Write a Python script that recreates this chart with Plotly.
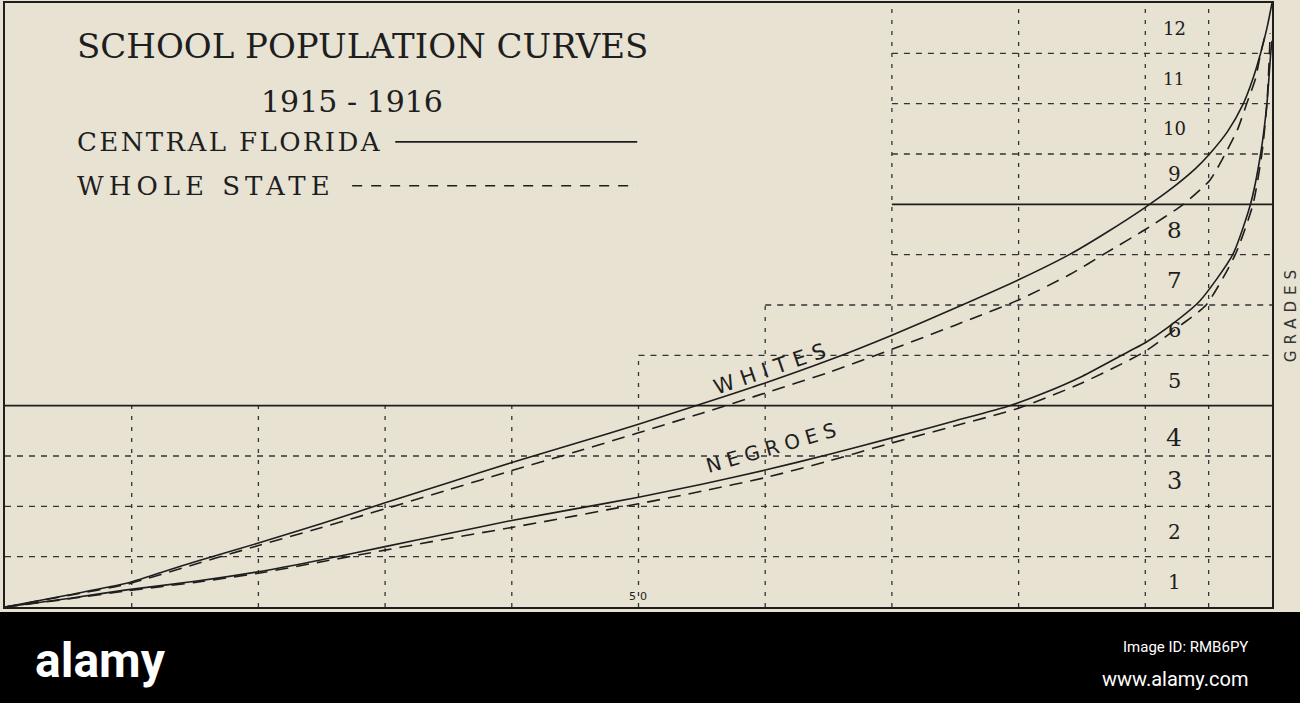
import plotly.graph_objects as go

# ---------------- data ----------------
# x: per cent of school population (0-100), y: grade reached
wc_x = [0, 5, 9.6, 12.5, 15.4, 20, 25, 30, 35, 40, 45, 50, 55, 60, 65, 70, 75, 80, 84, 87, 90, 92, 94, 95, 96.5, 97.7, 98.5, 99.1, 99.6, 100]
wc_y = [0, 0.24, 0.47, 0.7, 0.93, 1.27, 1.66, 2.07, 2.47, 2.87, 3.25, 3.63, 4.04, 4.45, 4.9, 5.4, 5.94, 6.5, 7.0, 7.45, 7.94, 8.3, 8.72, 8.98, 9.45, 9.98, 10.5, 11.0, 11.5, 12.0]

ws_x = [0, 5, 9.6, 15, 20, 25, 30, 35, 40, 45, 50, 55, 60, 65, 70, 75, 80, 84, 87, 90, 93, 95.1, 96.3, 97.3, 98, 98.7, 99.1, 99.5]
ws_y = [0, 0.23, 0.45, 0.85, 1.22, 1.58, 1.95, 2.33, 2.71, 3.08, 3.46, 3.85, 4.25, 4.66, 5.12, 5.6, 6.1, 6.6, 7.05, 7.5, 8.0, 8.48, 9.0, 9.5, 10.0, 10.5, 11.0, 11.4]

nc_x = [0, 5, 9.6, 15, 20, 25, 30, 35, 40, 45, 50, 55, 60, 65, 70, 75, 79.3, 82, 85, 88.8, 90, 91.7, 94.3, 96.9, 98.3, 99.1, 99.6, 99.9, 100]
nc_y = [0, 0.17, 0.34, 0.51, 0.7, 0.94, 1.2, 1.46, 1.72, 1.95, 2.18, 2.44, 2.72, 3.03, 3.36, 3.7, 4.0, 4.25, 4.58, 5.09, 5.25, 5.54, 6.08, 7.0, 8.0, 9.0, 10.0, 11.0, 11.25]

ns_x = [0, 5, 9.6, 15, 20, 25, 30, 35, 40, 45, 50, 55, 60, 65, 70, 75, 80, 85, 90, 92.8, 94.8, 97.1, 98.5, 99.2, 99.6, 99.8, 99.85]
ns_y = [0, 0.16, 0.32, 0.49, 0.67, 0.9, 1.13, 1.36, 1.58, 1.81, 2.05, 2.3, 2.57, 2.9, 3.26, 3.6, 3.95, 4.45, 5.08, 5.6, 6.0, 7.0, 8.0, 9.0, 10.0, 11.0, 11.4]

grade_labels = ["1", "2", "3", "4", "5", "6", "7", "8", "9", "10", "11", "12"]

# grid structure of the chart
grid_x = [10, 20, 30, 40, 50, 60, 70, 80, 90, 95]
grid_x_top = [4, 4, 4, 4, 5, 6, 12, 12, 12, 12]
grid_y = [1, 2, 3, 5, 6, 7, 9, 10, 11]
grid_y_start = [0, 0, 0, 50, 60, 70, 70, 70, 70]
solid_y = [4, 8]
solid_y_start = [0, 70]

# ---------------- styles ----------------
BG = "#e7e2d2"
INK = "#1e1e1e"
GRID = "#333333"
SERIF = "DejaVu Serif"
grade_font_sizes = [20, 20, 24, 25, 21, 21, 23, 23, 20, 18, 17, 18]
grade_offsets = [0, 0, 0, -0.13, 0, 0, 0, 0, 0.1, 0, 0, 0]

fig = go.Figure()

for xs, ys, dash in [(wc_x, wc_y, "solid"), (ws_x, ws_y, "13px,8px"),
                     (nc_x, nc_y, "solid"), (ns_x, ns_y, "13px,8px")]:
    fig.add_trace(go.Scatter(x=xs, y=ys, mode="lines",
                             line=dict(color=INK, width=1.6, dash=dash,
                                       shape="spline", smoothing=0.6),
                             hoverinfo="skip", showlegend=False))

shapes = []
for gx, top in zip(grid_x, grid_x_top):
    shapes.append(dict(type="line", xref="x", yref="y", x0=gx, x1=gx, y0=0, y1=top,
                       line=dict(color=GRID, width=1.3, dash="4px,7px"), layer="below"))
for gy, start in zip(grid_y, grid_y_start):
    shapes.append(dict(type="line", xref="x", yref="y", x0=start, x1=100, y0=gy, y1=gy,
                       line=dict(color=GRID, width=1.3, dash="6px,6px"), layer="below"))
for gy, start in zip(solid_y, solid_y_start):
    shapes.append(dict(type="line", xref="x", yref="y", x0=start, x1=100, y0=gy, y1=gy,
                       line=dict(color=INK, width=1.6), layer="below"))

# legend sample lines
shapes.append(dict(type="line", xref="x", yref="y", x0=30.8, x1=49.9, y0=9.24, y1=9.24,
                   line=dict(color=INK, width=1.6)))
shapes.append(dict(type="line", xref="x", yref="y", x0=27.4, x1=49.9, y0=8.37, y1=8.37,
                   line=dict(color=INK, width=1.6, dash="10px,9px")))

# black credit band at bottom
shapes.append(dict(type="rect", xref="paper", yref="paper", x0=-0.02, x1=1.05,
                   y0=-0.2, y1=-0.0083, fillcolor="black", line=dict(width=0), layer="above"))

annotations = []
annotations.append(dict(text="SCHOOL POPULATION CURVES", xref="x", yref="y", x=5.5, y=11.14,
                        xanchor="left", yanchor="middle", showarrow=False,
                        font=dict(family=SERIF, size=34, color=INK)))
annotations.append(dict(text="1915 - 1916", xref="x", yref="y", x=27.4, y=10.04,
                        xanchor="center", yanchor="middle", showarrow=False,
                        font=dict(family=SERIF, size=30, color=INK)))
annotations.append(dict(text='<span style="letter-spacing:2.4px">CENTRAL FLORIDA</span>',
                        xref="x", yref="y", x=5.5, y=9.24,
                        xanchor="left", yanchor="middle", showarrow=False,
                        font=dict(family=SERIF, size=26, color=INK)))
annotations.append(dict(text='<span style="letter-spacing:5px">WHOLE STATE</span>',
                        xref="x", yref="y", x=5.5, y=8.37,
                        xanchor="left", yanchor="middle", showarrow=False,
                        font=dict(family=SERIF, size=26, color=INK)))
annotations.append(dict(text='<span style="letter-spacing:7px">WHITES</span>',
                        xref="x", yref="y", x=60.6, y=4.75, textangle=-19,
                        xanchor="center", yanchor="middle", showarrow=False,
                        font=dict(family="DejaVu Sans", size=21, color=INK)))
annotations.append(dict(text='<span style="letter-spacing:6px">NEGROES</span>',
                        xref="x", yref="y", x=60.7, y=3.17, textangle=-16,
                        xanchor="center", yanchor="middle", showarrow=False,
                        font=dict(family="DejaVu Sans", size=20, color=INK)))
annotations.append(dict(text='<span style="letter-spacing:4px">50</span>',
                        xref="x", yref="y", x=50.1, y=0.2,
                        xanchor="center", yanchor="middle", showarrow=False,
                        font=dict(family="DejaVu Sans", size=11, color=INK)))
for i, lab in enumerate(grade_labels):
    annotations.append(dict(text=lab, xref="x", yref="y", x=92.3, y=i + 0.5 + grade_offsets[i],
                            xanchor="center", yanchor="middle", showarrow=False,
                            font=dict(family=SERIF, size=grade_font_sizes[i], color=INK)))
annotations.append(dict(text='<span style="letter-spacing:6px">GRADES</span>',
                        xref="paper", yref="paper", x=1.0145, y=0.487, textangle=-90,
                        xanchor="center", yanchor="middle", showarrow=False,
                        font=dict(family="DejaVu Sans", size=15, color="#333333")))
# credit band text
annotations.append(dict(text="<b>alamy</b>", xref="paper", yref="paper", x=0.075, y=-0.089,
                        xanchor="center", yanchor="middle", showarrow=False,
                        font=dict(family="Roboto", size=48, color="white")))
annotations.append(dict(text="Image ID: RMB6PY", xref="paper", yref="paper", x=0.983, y=-0.066,
                        xanchor="right", yanchor="middle", showarrow=False,
                        font=dict(family="Roboto", size=15, color="white")))
annotations.append(dict(text="www.alamy.com", xref="paper", yref="paper", x=0.983, y=-0.12,
                        xanchor="right", yanchor="middle", showarrow=False,
                        font=dict(family="Roboto", size=20, color="white")))

axis_common = dict(showgrid=False, zeroline=False, showticklabels=False, ticks="",
                   showline=True, mirror=True, linecolor=INK, linewidth=2, fixedrange=True)
fig.update_layout(
    width=1300, height=703,
    margin=dict(l=5, r=28, t=1, b=96),
    paper_bgcolor=BG, plot_bgcolor=BG,
    xaxis=dict(range=[0, 100], **axis_common),
    yaxis=dict(range=[0, 12], **axis_common),
    shapes=shapes, annotations=annotations,
    showlegend=False,
)

fig.write_html("out.html", config={"displayModeBar": False},
               post_script="document.body.style.margin='0';document.body.style.overflow='hidden';")
